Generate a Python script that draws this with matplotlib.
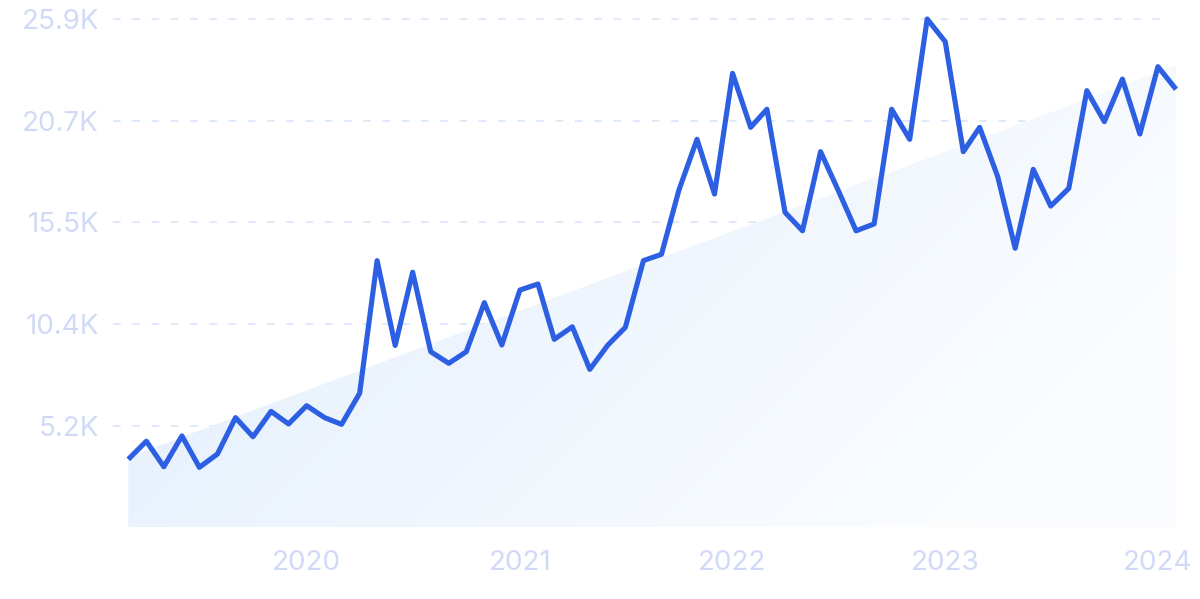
import numpy as np
import pandas as pd
import matplotlib
matplotlib.use("Agg")
import matplotlib.pyplot as plt
import matplotlib.dates as mdates
from matplotlib.patches import Polygon

# Monthly search volume, in thousands (Mar 2019 - Feb 2024)
months = pd.date_range("2019-03-01", periods=60, freq="MS")
searches = [
    3.47, 4.39, 3.09, 4.66, 3.06, 3.74, 5.59, 4.62, 5.91, 5.27,
    6.20, 5.59, 5.25, 6.83, 13.59, 9.27, 13.00, 8.95, 8.36, 8.95,
    11.45, 9.29, 12.09, 12.40, 9.58, 10.22, 8.05, 9.29, 10.19, 13.59,
    13.91, 17.19, 19.77, 16.98, 23.13, 20.38, 21.30, 16.05, 15.11, 19.14,
    17.19, 15.11, 15.46, 21.30, 19.77, 25.90, 24.74, 19.14, 20.38, 17.87,
    14.22, 18.24, 16.37, 17.27, 22.25, 20.67, 22.84, 20.04, 23.47, 22.32,
]

y_ticks = [5.18, 10.36, 15.54, 20.72, 25.9]
y_tick_labels = ["5.2K", "10.4K", "15.5K", "20.7K", "25.9K"]
year_ticks = pd.to_datetime(["2020-01-01", "2021-01-01", "2022-01-01", "2023-01-01", "2024-01-01"])
year_labels = ["2020", "2021", "2022", "2023", "2024"]

line_color = "#2D5FE3"
text_color = "#D0DAF6"
grid_color = "#D5E3FB"

plt.rcParams["font.family"] = ["Inter", "DejaVu Sans"]

# axes run a bit past the last grid dash so the fill isn't cut off
ax_w_px = 1070
grid_w_px = 1054

fig = plt.figure(figsize=(12, 5.99), dpi=100)
ax = fig.add_axes([113 / 1200, (599 - 527.4) / 599, ax_w_px / 1200, (527.4 - 10) / 599])

x = mdates.date2num(months)
y = np.array(searches)

# trend line (least squares) used for the shaded area
slope, icpt = np.polyfit(x, y, 1)
t0, t1 = slope * x[0] + icpt, slope * x[-1] + icpt

# gradient fill under the trend, light blue top-left -> near white bottom-right
nx, ny = 300, 100
gx = np.linspace(0, 1, nx)[None, :]
gy = np.linspace(1, 0, ny)[:, None]
t = np.clip(0.8 * gx + 0.35 * (1 - gy), 0, 1)
c0 = np.array([0.882, 0.929, 0.988])
c1 = np.array([0.985, 0.992, 1.0])
img = c0[None, None, :] * (1 - t[..., None]) + c1[None, None, :] * t[..., None]
im = ax.imshow(img, extent=[x[0], x[-1], 0, max(t0, t1)], aspect="auto",
               origin="upper", zorder=1, interpolation="bilinear")
poly = Polygon([(x[0], 0), (x[0], t0), (x[-1], t1), (x[-1], 0)],
               closed=True, transform=ax.transData, facecolor="none", edgecolor="none")
ax.add_patch(poly)
im.set_clip_path(poly)

# dashed grid, stopping a little short of the last point
for v in y_ticks:
    ax.axhline(v, xmax=grid_w_px / ax_w_px, color=grid_color, lw=1.1,
               linestyle=(0, (5, 7.6)), zorder=0.5)

ax.plot(x, y, color=line_color, lw=3.7, zorder=3, clip_on=False,
        solid_joinstyle="round", solid_capstyle="butt")

px_per_day = 1047.7 / (x[-1] - x[0])
left = x[0] - 15.3 / px_per_day
ax.set_xlim(left, left + ax_w_px / px_per_day)
ax.set_ylim(0, (527.4 - 10) / 19.63)

ax.set_yticks(y_ticks)
ax.set_yticklabels(y_tick_labels)
ax.set_xticks(mdates.date2num(year_ticks))
ax.set_xticklabels(year_labels)
ax.tick_params(axis="both", length=0, labelsize=20, labelcolor=text_color)
ax.tick_params(axis="y", pad=10)
ax.tick_params(axis="x", pad=16)
for s in ax.spines.values():
    s.set_visible(False)
ax.set_facecolor("none")

fig.savefig("out.png", dpi=100, facecolor="white")
